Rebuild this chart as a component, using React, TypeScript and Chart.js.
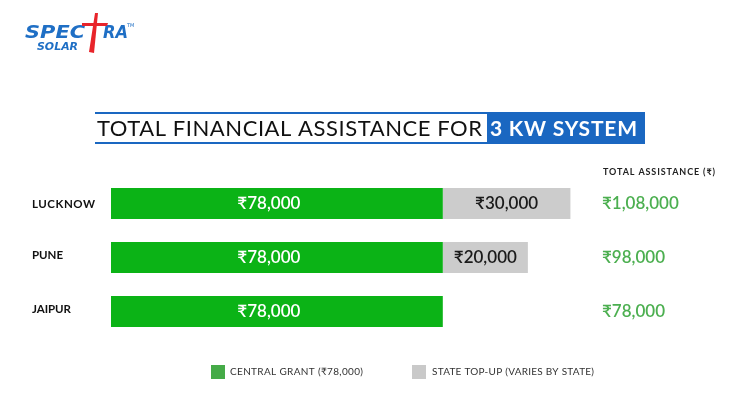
import { useEffect, useRef } from 'react';
import { Chart, registerables } from 'chart.js';
Chart.register(...registerables);

const cities = ['LUCKNOW', 'PUNE', 'JAIPUR'];
const centralGrant = [78000, 78000, 78000];
const stateTopUp = [30000, 20000, 0];
const seriesLabels = ['CENTRAL GRANT (₹78,000)', 'STATE TOP-UP (VARIES BY STATE)'];
const titleMain = 'TOTAL FINANCIAL ASSISTANCE FOR';
const titleHighlight = '3 KW SYSTEM';
const totalHeader = 'TOTAL ASSISTANCE (₹)';
const xMax = 130000;

const GREEN = '#0bb316';
const GRAY = '#cccccc';
const BLUE = '#1a67c1';
const TOTAL_GREEN = '#4caf50';
const FONT = "Lato, 'Noto Sans', 'DejaVu Sans', sans-serif";

function inr(n: number): string {
  const s = String(Math.round(n));
  if (s.length <= 3) return s;
  const last3 = s.slice(-3);
  let rest = s.slice(0, -3);
  const parts: string[] = [];
  while (rest.length > 2) {
    parts.unshift(rest.slice(-2));
    rest = rest.slice(0, -2);
  }
  if (rest) parts.unshift(rest);
  return parts.join(',') + ',' + last3;
}

function fitText(ctx: any, text: string, x: number, y: number, width: number) {
  ctx.letterSpacing = '0px';
  const w = ctx.measureText(text).width;
  const ls = (width - w) / Math.max(1, text.length - 1);
  ctx.letterSpacing = ls + 'px';
  ctx.fillText(text, x, y);
  ctx.letterSpacing = '0px';
}

function wideText(ctx: any, text: string, x: number, y: number, width: number) {
  const w = ctx.measureText(text).width;
  ctx.save();
  ctx.translate(x, y);
  ctx.scale(width / w, 1);
  ctx.fillText(text, 0, 0);
  ctx.restore();
}

const decorPlugin = {
  id: 'decor',
  afterDatasetsDraw(chart: any) {
    const ctx = chart.ctx;
    const yScale = chart.scales.y;
    ctx.save();

    // Logo
    ctx.fillStyle = '#1f6fc5';
    ctx.textBaseline = 'alphabetic';
    ctx.textAlign = 'left';
    ctx.font = `italic bold 17px 'DejaVu Sans', sans-serif`;
    wideText(ctx, 'SPEC', 25, 38, 60);
    wideText(ctx, 'RA', 103, 38, 25);
    ctx.font = `italic bold 11px 'DejaVu Sans', sans-serif`;
    wideText(ctx, 'SOLAR', 37, 50, 41);
    ctx.font = `5px 'DejaVu Sans', sans-serif`;
    ctx.fillText('TM', 127, 27);
    ctx.fillStyle = '#e8242a';
    ctx.beginPath();
    ctx.moveTo(82, 23);
    ctx.lineTo(108, 23);
    ctx.lineTo(107, 26);
    ctx.lineTo(82, 26);
    ctx.closePath();
    ctx.fill();
    ctx.beginPath();
    ctx.moveTo(95, 13);
    ctx.lineTo(98, 13);
    ctx.lineTo(94, 53);
    ctx.lineTo(89, 52);
    ctx.closePath();
    ctx.fill();

    // Title
    ctx.fillStyle = BLUE;
    ctx.fillRect(95, 112, 550, 2);
    ctx.fillRect(95, 142, 550, 2);
    ctx.fillRect(487, 112, 158, 32);
    ctx.fillStyle = '#111';
    ctx.font = `22px ${FONT}`;
    ctx.textBaseline = 'alphabetic';
    fitText(ctx, titleMain, 97, 136, 385);
    ctx.fillStyle = '#ffffff';
    ctx.font = `bold 21px ${FONT}`;
    fitText(ctx, titleHighlight, 490, 136, 147);

    // Header of totals
    ctx.fillStyle = '#222';
    ctx.font = `bold 9px ${FONT}`;
    fitText(ctx, totalHeader, 603, 175, 112);

    // Category labels & totals
    ctx.textBaseline = 'middle';
    const labelW = [63, 31, 39];
    cities.forEach((c, i) => {
      const y = yScale.getPixelForValue(i);
      ctx.fillStyle = '#111';
      ctx.font = `bold 11.5px ${FONT}`;
      ctx.textAlign = 'left';
      fitText(ctx, c, 32, y + (i === 0 ? 1 : -2), labelW[i]);
      ctx.fillStyle = TOTAL_GREEN;
      ctx.font = `600 17px ${FONT}`;
      ctx.fillText('₹' + inr(centralGrant[i] + stateTopUp[i]), 602, y);
    });

    // In-bar labels
    chart.data.datasets.forEach((ds: any, di: number) => {
      const meta = chart.getDatasetMeta(di);
      meta.data.forEach((el: any, i: number) => {
        const v = ds.data[i];
        if (!v) return;
        const cx = (el.x + el.base) / 2;
        ctx.fillStyle = di === 0 ? '#ffffff' : '#1a1a1a';
        ctx.font = `600 17px ${FONT}`;
        ctx.textAlign = 'center';
        ctx.textBaseline = 'middle';
        ctx.fillText('₹' + inr(v), cx - (di === 0 ? 8 : 0), el.y);
      });
    });

    // Legend
    ctx.textAlign = 'left';
    ctx.textBaseline = 'middle';
    ctx.fillStyle = '#45ab48';
    ctx.fillRect(211, 365, 14, 14);
    ctx.fillStyle = '#c9c9c9';
    ctx.fillRect(412, 365, 14, 14);
    ctx.fillStyle = '#333';
    ctx.font = `10px ${FONT}`;
    fitText(ctx, seriesLabels[0], 230, 372, 133);
    fitText(ctx, seriesLabels[1], 432, 372, 162);

    ctx.restore();
  },
};

export default function App() {
  const ref = useRef<HTMLCanvasElement | null>(null);
  useEffect(() => {
    if (!ref.current) return;
    const chart = new Chart(ref.current, {
      type: 'bar',
      data: {
        labels: cities,
        datasets: [
          {
            label: seriesLabels[0],
            data: centralGrant,
            backgroundColor: GREEN,
            borderWidth: 0,
            barPercentage: 0.574,
            categoryPercentage: 1,
          },
          {
            label: seriesLabels[1],
            data: stateTopUp,
            backgroundColor: GRAY,
            borderWidth: 0,
            barPercentage: 0.574,
            categoryPercentage: 1,
          },
        ],
      },
      options: {
        indexAxis: 'y',
        responsive: false,
        animation: false,
        layout: { padding: { left: 111, right: 72, top: 176.5, bottom: 61.5 } },
        plugins: { legend: { display: false }, tooltip: { enabled: false }, title: { display: false } },
        scales: {
          x: { stacked: true, min: 0, max: xMax, display: false },
          y: { stacked: true, display: false, offset: true },
        },
      },
      plugins: [decorPlugin],
    });
    return () => chart.destroy();
  }, []);
  return (
    <div style={{ position: 'absolute', left: 0, top: 0, width: 736, height: 400, background: '#fff' }}>
      <canvas ref={ref} width={736} height={400} />
    </div>
  );
}
